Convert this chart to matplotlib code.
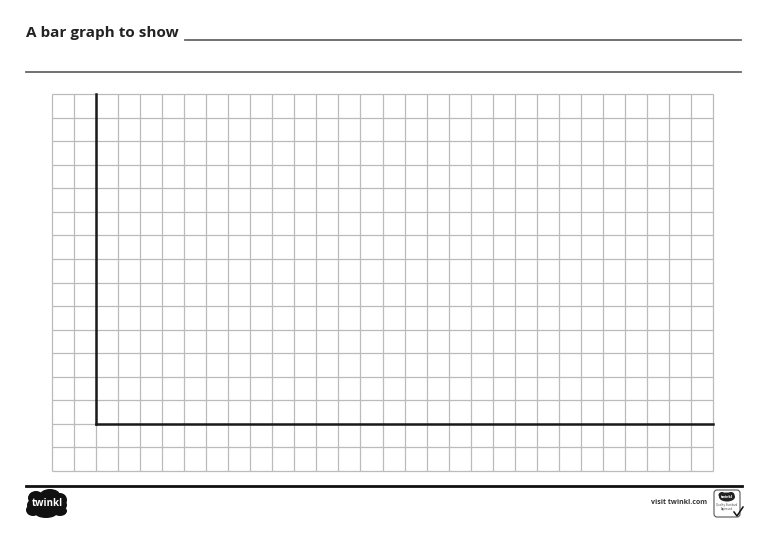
import matplotlib.pyplot as plt
from matplotlib.patches import Ellipse, FancyBboxPatch

# worksheet layout (pixels of a 768x543 page)
title = "A bar graph to show"
footer_text = "visit twinkl.com"
n_cols = 30
n_rows = 16
grid_left, grid_right = 52, 713
grid_top, grid_bottom = 94, 471
y_axis_col = 2      # vertical axis sits on this column line
x_axis_row = 14     # horizontal axis sits on this row line (from top)

fig = plt.figure(figsize=(7.68, 5.43), dpi=100)
ax = fig.add_axes([0, 0, 1, 1])
ax.set_xlim(0, 768)
ax.set_ylim(543, 0)
ax.axis('off')

# header
ax.text(26, 33, title, fontsize=11, fontweight='bold', color='#222222',
        family='Open Sans', va='center', ha='left')
ax.plot([185, 741], [40, 40], color='#666666', lw=1.3)
ax.plot([26, 741], [72, 72], color='#666666', lw=1.3)

# squared grid
cw = (grid_right - grid_left) / n_cols
rh = (grid_bottom - grid_top) / n_rows
xs = [grid_left + i * cw for i in range(n_cols + 1)]
ys = [grid_top + j * rh for j in range(n_rows + 1)]
ax.vlines(xs, grid_top, grid_bottom, color='#bbbbbb', lw=0.9)
ax.hlines(ys, grid_left, grid_right, color='#bbbbbb', lw=0.9)

# axes
ax.plot([xs[y_axis_col], xs[y_axis_col]], [grid_top, ys[x_axis_row]],
        color='#1a1a1a', lw=1.8, solid_capstyle='projecting')
ax.plot([xs[y_axis_col], grid_right], [ys[x_axis_row], ys[x_axis_row]],
        color='#1a1a1a', lw=1.8, solid_capstyle='projecting')

# footer
ax.plot([26, 742], [486, 486], color='#111111', lw=2)

# twinkl cloud logo
for cx, cy, w, h in [(47, 505, 40, 20), (36, 498, 16, 14), (50, 495, 20, 12),
                     (60, 500, 14, 14), (33, 510, 14, 12), (46, 513, 22, 10),
                     (60, 511, 14, 10)]:
    ax.add_patch(Ellipse((cx, cy), w, h, color='#111111', lw=0))
ax.text(47, 504, "twinkl", fontsize=7, fontweight='bold', color='white',
        ha='center', va='center', family='Open Sans')

ax.text(707, 503, footer_text, fontsize=5, fontweight='bold', color='#333333',
        ha='right', va='center', family='Open Sans')

# quality badge
ax.add_patch(FancyBboxPatch((714, 490), 26, 27, boxstyle='round,pad=0,rounding_size=3',
                            fc='white', ec='#555555', lw=0.8))
for cx, cy, w, h in [(727, 497, 16, 9), (722, 495, 7, 6), (731, 495, 7, 6)]:
    ax.add_patch(Ellipse((cx, cy), w, h, color='#222222', lw=0))
ax.text(727, 497, "twinkl", fontsize=2.5, color='white', ha='center', va='center',
        fontweight='bold')
ax.text(727, 507, "Quality Standard\nApproved", fontsize=1.8, color='#444444',
        ha='center', va='center', linespacing=1.1)
ax.plot([734, 737, 743], [512, 516, 507], color='#111111', lw=1.1)

fig.savefig('out.png', dpi=100, facecolor='white')
